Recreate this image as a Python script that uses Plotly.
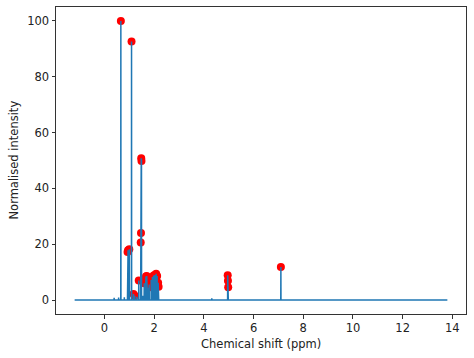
import plotly.graph_objects as go

# Peak picks (red dots): chemical shift (ppm) and normalised intensity
peak_ppm = [0.66, 0.93, 0.95, 1.00, 1.09, 1.17, 1.22, 1.38, 1.46, 1.47, 1.48, 1.49,
            1.60, 1.64, 1.67, 1.70, 1.73, 1.76, 1.80, 1.88, 1.93, 1.98, 2.03, 2.08,
            2.12, 2.16, 2.18, 4.96, 4.97, 4.98, 7.10]
peak_intensity = [100.0, 17.2, 17.8, 18.2, 92.6, 2.2, 1.5, 7.0, 20.6, 24.0, 50.8, 49.8,
                  6.0, 7.5, 8.4, 8.6, 7.4, 4.4, 5.6, 7.2, 8.3, 8.8, 9.0, 9.4,
                  8.6, 6.2, 4.8, 8.9, 6.9, 4.6, 11.8]

# Small baseline features of the spectrum (ppm, intensity)
minor_ppm = [0.39, 0.57, 0.80, 1.30, 1.55, 4.32]
minor_intensity = [0.8, 0.9, 1.0, 1.2, 1.5, 0.6]

# Spectral window
ppm_start, ppm_end = -1.2, 13.8

x_ticks = [0, 2, 4, 6, 8, 10, 12, 14]
y_ticks = [0, 20, 40, 60, 80, 100]

# Build the spectrum line from the peak lists (narrow sticks on a flat baseline)
features = sorted(zip(peak_ppm + minor_ppm, peak_intensity + minor_intensity))
half_width = 0.004
line_x = [ppm_start]
line_y = [0.0]
for p, h in features:
    line_x += [p - half_width, p, p + half_width]
    line_y += [0.0, h, 0.0]
line_x.append(ppm_end)
line_y.append(0.0)

FONT = dict(family="DejaVu Sans", size=11.5, color="#222222")

fig = go.Figure()
fig.add_trace(go.Scatter(
    x=peak_ppm, y=peak_intensity, mode="markers",
    marker=dict(color="red", size=8, line=dict(width=0)),
    showlegend=False, hoverinfo="skip"))
fig.add_trace(go.Scatter(
    x=line_x, y=line_y, mode="lines",
    line=dict(color="#1f77b4", width=1.5),
    showlegend=False))

axis_common = dict(
    showgrid=False, zeroline=False, showline=True, mirror=True,
    linecolor="#333333", linewidth=1, ticks="outside", ticklen=3.5,
    tickwidth=1, tickcolor="#333333", automargin=False,
    tickfont=FONT,
)

fig.update_xaxes(range=[-1.95, 14.55], tickmode="array", tickvals=x_ticks, **axis_common)
fig.update_yaxes(range=[-5, 105], tickmode="array", tickvals=y_ticks, **axis_common)

fig.update_layout(
    width=474, height=358,
    margin=dict(l=56, r=8, t=7, b=44),
    paper_bgcolor="white", plot_bgcolor="white",
    font=FONT,
    annotations=[
        dict(text="Chemical shift (ppm)", xref="paper", yref="paper",
             x=0.5, y=0, yshift=-30, xanchor="center", yanchor="middle",
             showarrow=False, font=FONT),
        dict(text="Normalised intensity", xref="paper", yref="paper",
             x=0, y=0.5, xshift=-43, xanchor="center", yanchor="middle",
             textangle=-90, showarrow=False, font=FONT),
    ],
)

fig.write_html("out.html", config={"displayModeBar": False},
               post_script="document.body.style.margin='0';document.body.style.overflow='hidden';")
